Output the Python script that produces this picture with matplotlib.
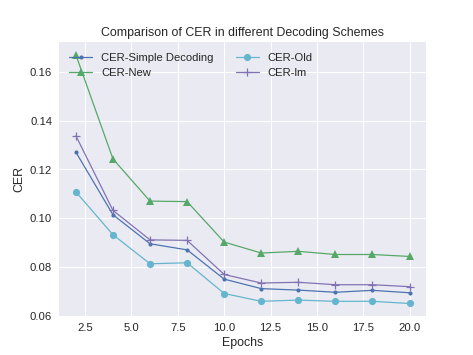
import numpy as np
import matplotlib
matplotlib.use('Agg')
import matplotlib.pyplot as plt

#############################################################################################

epochs = [2, 4, 6, 8, 10, 12, 14, 16, 18, 20]
cer_simple = [0.1271, 0.1014, 0.0895, 0.0870, 0.0750, 0.0711, 0.0705, 0.0696, 0.0704, 0.0694]
cer_new = [0.1670, 0.1243, 0.1070, 0.1068, 0.0902, 0.0857, 0.0864, 0.0851, 0.0851, 0.0843]
cer_old = [0.1108, 0.0932, 0.0813, 0.0817, 0.0691, 0.0659, 0.0664, 0.0659, 0.0659, 0.0650]
cer_lm = [0.1338, 0.1032, 0.0911, 0.0909, 0.0769, 0.0734, 0.0737, 0.0727, 0.0727, 0.0719]

#############################################################################################

plt.style.use('seaborn-v0_8')
plt.rcParams['font.family'] = ['Liberation Sans', 'DejaVu Sans']
plt.rcParams['xtick.labelsize'] = 11
plt.rcParams['ytick.labelsize'] = 11
plt.rcParams['axes.labelsize'] = 12
plt.rcParams['axes.titlesize'] = 12
plt.rcParams['legend.fontsize'] = 11

plt.figure(figsize=(6.4, 4.8), dpi=74)
plt.plot(epochs, cer_simple, color='#4C72B0', marker='.', linewidth=1.2, markersize=8, label='CER-Simple Decoding')
plt.plot(epochs, cer_new, color='#55A868', marker='^', linewidth=1.2, markersize=7, label='CER-New')
plt.plot(epochs, cer_old, color='#64B5CD', marker='o', linewidth=1.2, markersize=7, label='CER-Old')
plt.plot(epochs, cer_lm, color='#8172B2', marker='+', linewidth=1.2, markersize=8, markeredgewidth=1.2, label='CER-lm')
plt.xlabel('Epochs')
plt.ylabel('CER')
plt.title('Comparison of CER in different Decoding Schemes')
plt.legend(loc='upper left', ncol=2)
plt.savefig('out.png', dpi=74)
